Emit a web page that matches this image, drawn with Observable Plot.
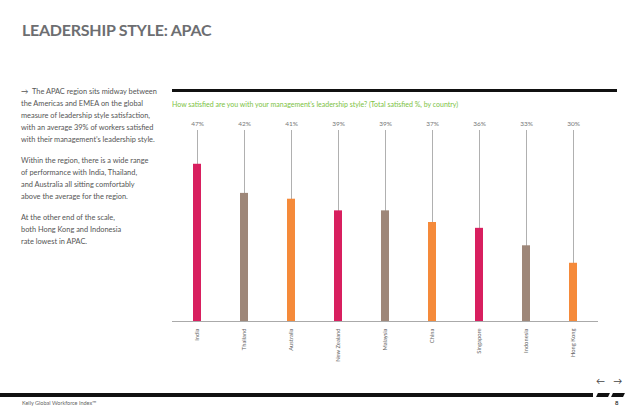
<!DOCTYPE html>
<html>
<head>
<meta charset="utf-8">
<script src="https://cdn.jsdelivr.net/npm/d3@7"></script>
<script src="https://cdn.jsdelivr.net/npm/@observablehq/plot@0.6"></script>
<style>
  html, body { margin: 0; padding: 0; background: #fff; }
  #page { position: relative; width: 638px; height: 415px; overflow: hidden; font-family: Lato, "Open Sans", sans-serif; }
  #title { position: absolute; left: 22px; top: 20px; font-size: 16px; font-weight: 700; color: #6d6e71; letter-spacing: -0.25px; }
  #side { position: absolute; left: 21px; top: 86px; font-size: 7.4px; line-height: 12px; color: #555; white-space: nowrap; }
  #side p { margin: 0 0 9px 0; }
  #topbar { position: absolute; left: 172px; top: 89px; width: 445px; height: 3px; background: #111; }
  #subtitle { position: absolute; left: 172px; top: 100px; font-size: 7px; color: #7cc242; white-space: nowrap; }
  #chart { position: absolute; left: 160px; top: 110px; }
  #botbar { position: absolute; left: 0; top: 393px; width: 593px; height: 4px; background: #111; }
  .para { position: absolute; top: 393px; width: 12px; height: 4px; background: #111; transform: skewX(-25deg); }
  #arrows { position: absolute; left: 596px; top: 375px; font-size: 9px; color: #444; word-spacing: 6px; }
  #footer { position: absolute; left: 22px; top: 400px; font-size: 5.5px; color: #666; }
  #pagenum { position: absolute; left: 615px; top: 399px; font-size: 6px; color: #333; font-weight: 700; }
</style>
</head>
<body>
<div id="page">
  <div id="title">LEADERSHIP STYLE: APAC</div>
  <div id="side">
    <p>→&nbsp; The APAC region sits midway between<br>the Americas and EMEA on the global<br>measure of leadership style satisfaction,<br>with an average 39% of workers satisfied<br>with their management’s leadership style.</p>
    <p>Within the region, there is a wide range<br>of performance with India, Thailand,<br>and Australia all sitting comfortably<br>above the average for the region.</p>
    <p>At the other end of the scale,<br>both Hong Kong and Indonesia<br>rate lowest in APAC.</p>
  </div>
  <div id="topbar"></div>
  <div id="subtitle">How satisfied are you with your management’s leadership style? (Total satisfied %, by country)</div>
  <div id="chart"></div>
  <div id="botbar"></div>
  <div class="para" style="left:597px"></div>
  <div class="para" style="left:612px"></div>
  <div id="arrows">← →</div>
  <div id="footer">Kelly Global Workforce Index™</div>
  <div id="pagenum">8</div>
</div>
<script>
const countries = ["India", "Thailand", "Australia", "New Zealand", "Malaysia", "China", "Singapore", "Indonesia", "Hong Kong"];
const values = [47, 42, 41, 39, 39, 37, 36, 33, 30];
const colorNames = ["crimson", "taupe", "orange", "crimson", "taupe", "orange", "crimson", "taupe", "orange"];
const palette = { crimson: "#d81f5f", taupe: "#9e8779", orange: "#f58a3a" };
const yMin = 20, yMax = 52.8;

const data = countries.map((c, i) => ({ country: c, value: values[i], color: palette[colorNames[i]] }));

const chart = Plot.plot({
  width: 470,
  height: 270,
  marginLeft: 12,
  marginRight: 32,
  marginTop: 20,
  marginBottom: 59,
  x: { domain: countries, paddingInner: 0.832, paddingOuter: 0.39, axis: null },
  y: { domain: [yMin, yMax], axis: null },
  style: { fontFamily: "Lato, 'Open Sans', sans-serif", overflow: "visible" },
  marks: [
    Plot.ruleX(data, { x: "country", y1: yMax, y2: yMin, stroke: "#b0b0b0", strokeWidth: 1 }),
    Plot.barY(data, { x: "country", y1: yMin, y2: "value", fill: "color" }),
    Plot.ruleY([yMin], { stroke: "#aaa", strokeWidth: 1 }),
    Plot.text(data, { x: "country", y: yMax, text: d => d.value + "%", dy: -7, fontSize: 6.5, fill: "#777" }),
    Plot.text(data, { x: "country", y: yMin, text: "country", rotate: -90, textAnchor: "end", dy: 7, fontSize: 5.8, fill: "#666" })
  ]
});
document.getElementById("chart").appendChild(chart);
</script>
</body>
</html>
